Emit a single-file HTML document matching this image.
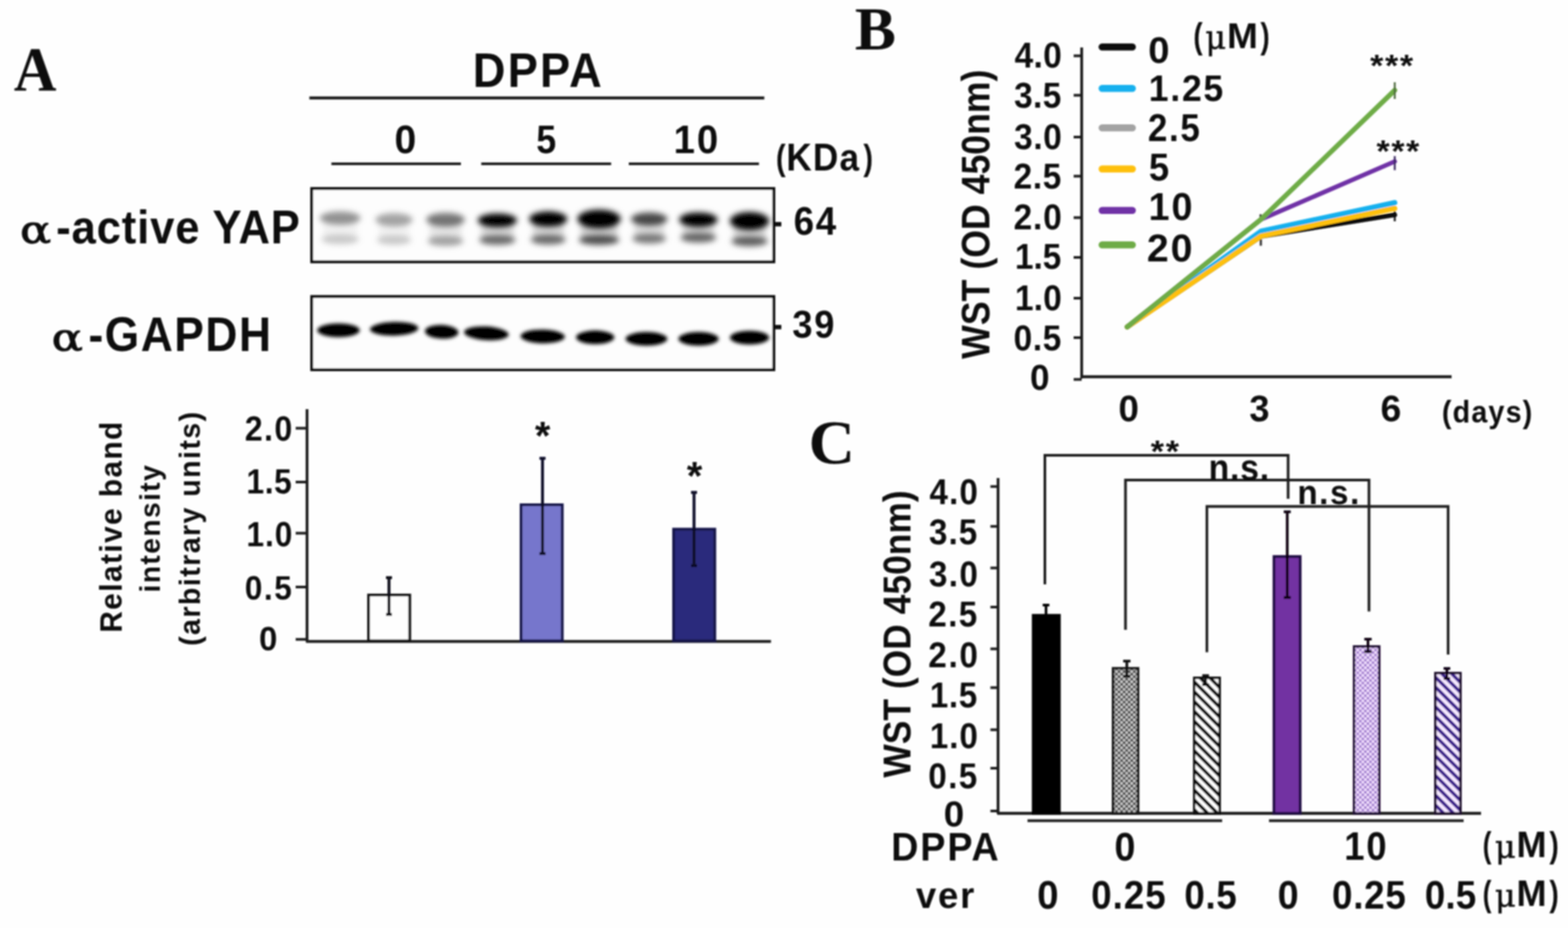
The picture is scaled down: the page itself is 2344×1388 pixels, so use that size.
<!DOCTYPE html>
<html lang="en"><head><meta charset="utf-8"><title>Figure</title>
<style>
html,body{margin:0;padding:0;background:#fefefe;}
body{width:2344px;height:1388px;overflow:hidden;}
svg{display:block;}
text{white-space:pre;}
</style></head><body>
<svg width="2344" height="1388" viewBox="0 0 2344 1388">
<defs>

<filter id="soft" x="0" y="0" width="100%" height="100%" filterUnits="userSpaceOnUse"><feGaussianBlur stdDeviation="0.8"/></filter>
<filter id="b3" x="-20%" y="-100%" width="140%" height="300%"><feGaussianBlur stdDeviation="4"/></filter>
<filter id="b2" x="-20%" y="-100%" width="140%" height="300%"><feGaussianBlur stdDeviation="2.6"/></filter>
<pattern id="hk" width="20" height="10.4" patternUnits="userSpaceOnUse" patternTransform="translate(1785 1016) rotate(45)">
  <rect width="20" height="10.4" fill="#fefefe"/>
  <rect y="0" width="20" height="4.9" fill="#0a0a0a"/>
</pattern>
<pattern id="hp" width="20" height="10.4" patternUnits="userSpaceOnUse" patternTransform="translate(2146 1009.5) rotate(45)">
  <rect width="20" height="10.4" fill="#f5e8ff"/>
  <rect y="0" width="20" height="4.9" fill="#3a1f8a"/>
</pattern>
<pattern id="dk" width="7.6" height="7.6" patternUnits="userSpaceOnUse" patternTransform="translate(1663.5 999)">
  <rect width="7.6" height="7.6" fill="#4c4c4c"/>
  <rect width="3.5" height="3.5" fill="#d6d6d6"/><rect x="3.8" y="3.8" width="3.5" height="3.5" fill="#d6d6d6"/>
</pattern>
<pattern id="dp" width="7.6" height="7.6" patternUnits="userSpaceOnUse" patternTransform="translate(2024 966.5)">
  <rect width="7.6" height="7.6" fill="#a27fcf"/>
  <rect width="3.8" height="3.8" fill="#f3e0ff"/><rect x="3.8" y="3.8" width="3.8" height="3.8" fill="#f3e0ff"/>
</pattern>

</defs>
<rect width="2344" height="1388" fill="#fefefe"/>
<g filter="url(#soft)">
<line x1="462.5" y1="146.5" x2="1142.5" y2="146.5" stroke="#1a1a1a" stroke-width="4.29" stroke-linecap="butt"/>
<line x1="495.5" y1="245" x2="689" y2="245" stroke="#1a1a1a" stroke-width="4.03" stroke-linecap="butt"/>
<line x1="719.5" y1="245" x2="913.5" y2="245" stroke="#1a1a1a" stroke-width="4.03" stroke-linecap="butt"/>
<line x1="940" y1="245" x2="1134.5" y2="245" stroke="#1a1a1a" stroke-width="4.03" stroke-linecap="butt"/>
<rect x="466" y="282" width="690.8" height="109.60000000000002" fill="#fdfdfd" stroke="#101010" stroke-width="4.29"/>
<rect x="466" y="443.5" width="690.8" height="109.5" fill="#fdfdfd" stroke="#101010" stroke-width="4.29"/>
<line x1="1157" y1="335.3" x2="1168" y2="335.3" stroke="#0a0a0a" stroke-width="6.5" stroke-linecap="butt"/>
<line x1="1157" y1="489.2" x2="1168" y2="489.2" stroke="#0a0a0a" stroke-width="6.5" stroke-linecap="butt"/>
<g filter="url(#b3)">
<rect x="483" y="322" width="51" height="42" rx="6" fill="#000" fill-opacity="0.048"/>
<ellipse cx="508.5" cy="326" rx="30.5" ry="10" fill="#000" fill-opacity="0.4"/>
<ellipse cx="508.5" cy="358" rx="28.5" ry="7.5" fill="#000" fill-opacity="0.16"/>
<rect x="566" y="324.5" width="46" height="40.5" rx="6" fill="#000" fill-opacity="0.048"/>
<ellipse cx="589.0" cy="328.5" rx="28.0" ry="10" fill="#000" fill-opacity="0.33"/>
<ellipse cx="589.0" cy="359" rx="26.0" ry="7.5" fill="#000" fill-opacity="0.16"/>
<rect x="642" y="324.5" width="48" height="42.0" rx="6" fill="#000" fill-opacity="0.09"/>
<ellipse cx="666.0" cy="328.5" rx="29.0" ry="10.5" fill="#000" fill-opacity="0.5"/>
<ellipse cx="666.0" cy="360.5" rx="27.0" ry="7.5" fill="#000" fill-opacity="0.3"/>
<rect x="719" y="325.5" width="49" height="39.5" rx="6" fill="#000" fill-opacity="0.15"/>
<ellipse cx="743.5" cy="329.5" rx="29.5" ry="10.5" fill="#000" fill-opacity="0.95"/>
<rect x="719" y="323.0" width="49" height="13.0" rx="6.5" fill="#000"/>
<ellipse cx="743.5" cy="359" rx="27.5" ry="7.5" fill="#000" fill-opacity="0.5"/>
<rect x="796" y="323.5" width="47" height="41.0" rx="6" fill="#000" fill-opacity="0.15"/>
<ellipse cx="819.5" cy="327.5" rx="28.5" ry="11.5" fill="#000" fill-opacity="1.0"/>
<rect x="796" y="320.0" width="47" height="15.0" rx="7.5" fill="#000"/>
<ellipse cx="819.5" cy="358.5" rx="26.5" ry="7.5" fill="#000" fill-opacity="0.5"/>
<rect x="868" y="323.5" width="55" height="41.5" rx="6" fill="#000" fill-opacity="0.186"/>
<ellipse cx="895.5" cy="327.5" rx="32.5" ry="14" fill="#000" fill-opacity="1.0"/>
<rect x="868" y="317.5" width="55" height="20" rx="10" fill="#000"/>
<ellipse cx="895.5" cy="359" rx="30.5" ry="7.5" fill="#000" fill-opacity="0.62"/>
<rect x="948" y="323.5" width="45" height="39.5" rx="6" fill="#000" fill-opacity="0.135"/>
<ellipse cx="970.5" cy="327.5" rx="27.5" ry="10" fill="#000" fill-opacity="0.68"/>
<ellipse cx="970.5" cy="357" rx="25.5" ry="7.5" fill="#000" fill-opacity="0.45"/>
<rect x="1020" y="324.5" width="48" height="37.0" rx="6" fill="#000" fill-opacity="0.156"/>
<ellipse cx="1044.0" cy="328.5" rx="29.0" ry="11" fill="#000" fill-opacity="0.95"/>
<rect x="1020" y="321.5" width="48" height="14" rx="7" fill="#000"/>
<ellipse cx="1044.0" cy="355.5" rx="27.0" ry="7.5" fill="#000" fill-opacity="0.52"/>
<rect x="1096" y="326.5" width="49" height="40.5" rx="6" fill="#000" fill-opacity="0.165"/>
<ellipse cx="1120.5" cy="330.5" rx="29.5" ry="13.5" fill="#000" fill-opacity="1.0"/>
<rect x="1096" y="321.0" width="49" height="19.0" rx="9.5" fill="#000"/>
<ellipse cx="1120.5" cy="361" rx="27.5" ry="7.5" fill="#000" fill-opacity="0.55"/>
</g>
<g filter="url(#b2)">
<ellipse cx="506.0" cy="494" rx="32.0" ry="10.5" fill="#000" transform="rotate(0 506.0 494)"/>
<rect x="480" y="486.5" width="52" height="15" rx="7.5" fill="#000" transform="rotate(0 506.0 494)"/>
<ellipse cx="589.25" cy="491.7" rx="36.25" ry="10.5" fill="#000" transform="rotate(-1.5 589.25 491.7)"/>
<rect x="559" y="484.2" width="60.5" height="15" rx="7.5" fill="#000" transform="rotate(-1.5 589.25 491.7)"/>
<ellipse cx="660.25" cy="496.3" rx="25.25" ry="10.5" fill="#000" transform="rotate(2.5 660.25 496.3)"/>
<rect x="641" y="488.8" width="38.5" height="15" rx="7.5" fill="#000" transform="rotate(2.5 660.25 496.3)"/>
<ellipse cx="727.0" cy="498.6" rx="33.5" ry="10.5" fill="#000" transform="rotate(3.5 727.0 498.6)"/>
<rect x="699.5" y="491.1" width="55.0" height="15" rx="7.5" fill="#000" transform="rotate(3.5 727.0 498.6)"/>
<ellipse cx="811.25" cy="503.2" rx="33.25" ry="10.5" fill="#000" transform="rotate(1 811.25 503.2)"/>
<rect x="784" y="495.7" width="54.5" height="15" rx="7.5" fill="#000" transform="rotate(1 811.25 503.2)"/>
<ellipse cx="889.75" cy="504.6" rx="28.75" ry="10.5" fill="#000" transform="rotate(0 889.75 504.6)"/>
<rect x="867" y="497.1" width="45.5" height="15" rx="7.5" fill="#000" transform="rotate(0 889.75 504.6)"/>
<ellipse cx="966.35" cy="506.8" rx="31.350000000000023" ry="10.5" fill="#000" transform="rotate(0 966.35 506.8)"/>
<rect x="941" y="499.3" width="50.700000000000045" height="15" rx="7.5" fill="#000" transform="rotate(0 966.35 506.8)"/>
<ellipse cx="1044.25" cy="506.8" rx="30.25" ry="10.5" fill="#000" transform="rotate(0 1044.25 506.8)"/>
<rect x="1020" y="499.3" width="48.5" height="15" rx="7.5" fill="#000" transform="rotate(0 1044.25 506.8)"/>
<ellipse cx="1120.5" cy="505" rx="29.5" ry="10.5" fill="#000" transform="rotate(0 1120.5 505)"/>
<rect x="1097" y="497.5" width="47" height="15" rx="7.5" fill="#000" transform="rotate(0 1120.5 505)"/>
</g>
<line x1="459" y1="612" x2="459" y2="960" stroke="#1a1a1a" stroke-width="4.16" stroke-linecap="butt"/>
<line x1="457.5" y1="959.4" x2="1152.5" y2="959.4" stroke="#1a1a1a" stroke-width="4.42" stroke-linecap="butt"/>
<line x1="442" y1="640.5" x2="459" y2="640.5" stroke="#1a1a1a" stroke-width="3.9" stroke-linecap="butt"/>
<line x1="442" y1="721" x2="459" y2="721" stroke="#1a1a1a" stroke-width="3.9" stroke-linecap="butt"/>
<line x1="442" y1="797.5" x2="459" y2="797.5" stroke="#1a1a1a" stroke-width="3.9" stroke-linecap="butt"/>
<line x1="442" y1="878" x2="459" y2="878" stroke="#1a1a1a" stroke-width="3.9" stroke-linecap="butt"/>
<line x1="442" y1="956.3" x2="459" y2="956.3" stroke="#1a1a1a" stroke-width="3.9" stroke-linecap="butt"/>
<rect x="551" y="890" width="61.5" height="68.5" fill="#fefefe" stroke="#151515" stroke-width="4.16"/>
<rect x="779" y="755" width="61.5" height="203.5" fill="#7676cc" stroke="#14144a" stroke-width="4.16"/>
<rect x="1007" y="791.5" width="61.5" height="167.0" fill="#2b2b7b" stroke="#14144a" stroke-width="4.16"/>
<line x1="581.5" y1="865" x2="581.5" y2="918" stroke="#0a0a12" stroke-width="4.29" stroke-linecap="butt"/>
<line x1="577.0" y1="864" x2="586.0" y2="864" stroke="#0a0a12" stroke-width="4.29" stroke-linecap="butt"/>
<line x1="577.0" y1="919" x2="586.0" y2="919" stroke="#0a0a12" stroke-width="4.29" stroke-linecap="butt"/>
<line x1="811" y1="686.5" x2="811" y2="827" stroke="#0a0a28" stroke-width="4.29" stroke-linecap="butt"/>
<line x1="806.5" y1="685.5" x2="815.5" y2="685.5" stroke="#0a0a28" stroke-width="4.29" stroke-linecap="butt"/>
<line x1="806.5" y1="828" x2="815.5" y2="828" stroke="#0a0a28" stroke-width="4.29" stroke-linecap="butt"/>
<line x1="1037.5" y1="737.5" x2="1037.5" y2="845" stroke="#0a0a28" stroke-width="4.29" stroke-linecap="butt"/>
<line x1="1033.0" y1="736.5" x2="1042.0" y2="736.5" stroke="#0a0a28" stroke-width="4.29" stroke-linecap="butt"/>
<line x1="1033.0" y1="846" x2="1042.0" y2="846" stroke="#0a0a28" stroke-width="4.29" stroke-linecap="butt"/>
<line x1="1617" y1="71" x2="1617" y2="566" stroke="#1a1a1a" stroke-width="4.16" stroke-linecap="butt"/>
<line x1="1616" y1="563.5" x2="2170" y2="563.5" stroke="#1a1a1a" stroke-width="4.42" stroke-linecap="butt"/>
<line x1="1605" y1="83.5" x2="1617" y2="83.5" stroke="#1a1a1a" stroke-width="3.9" stroke-linecap="butt"/>
<line x1="1605" y1="142.5" x2="1617" y2="142.5" stroke="#1a1a1a" stroke-width="3.9" stroke-linecap="butt"/>
<line x1="1605" y1="205" x2="1617" y2="205" stroke="#1a1a1a" stroke-width="3.9" stroke-linecap="butt"/>
<line x1="1605" y1="263.5" x2="1617" y2="263.5" stroke="#1a1a1a" stroke-width="3.9" stroke-linecap="butt"/>
<line x1="1605" y1="325.5" x2="1617" y2="325.5" stroke="#1a1a1a" stroke-width="3.9" stroke-linecap="butt"/>
<line x1="1605" y1="385" x2="1617" y2="385" stroke="#1a1a1a" stroke-width="3.9" stroke-linecap="butt"/>
<line x1="1605" y1="446" x2="1617" y2="446" stroke="#1a1a1a" stroke-width="3.9" stroke-linecap="butt"/>
<line x1="1605" y1="505" x2="1617" y2="505" stroke="#1a1a1a" stroke-width="3.9" stroke-linecap="butt"/>
<line x1="1605" y1="567.5" x2="1617" y2="567.5" stroke="#1a1a1a" stroke-width="3.9" stroke-linecap="butt"/>
<line x1="1884.5" y1="320.5" x2="1884.5" y2="327" stroke="#3a3a3a" stroke-width="3.38" stroke-linecap="butt"/>
<line x1="1884.8" y1="358" x2="1884.8" y2="367.5" stroke="#3a3a3a" stroke-width="3.38" stroke-linecap="butt"/>
<line x1="2085" y1="316" x2="2085" y2="331" stroke="#222" stroke-width="3.12" stroke-linecap="butt"/>
<polyline points="1685,489 1885,353.5 2085,321.3" fill="none" stroke="#0b0b0b" stroke-width="7" stroke-linejoin="round" stroke-linecap="round"/>
<polyline points="1685,489 1885,353 2085,310.5" fill="none" stroke="#a0a0a0" stroke-width="6" stroke-linejoin="round" stroke-linecap="round"/>
<polyline points="1685,489 1885,345.8 2085,303" fill="none" stroke="#12b0ee" stroke-width="7.6" stroke-linejoin="round" stroke-linecap="round"/>
<polyline points="1685,489 1885,353 2085,311.8" fill="none" stroke="#fec008" stroke-width="7.6" stroke-linejoin="round" stroke-linecap="round"/>
<polyline points="1685,489 1885,328.2 2085,241.5" fill="none" stroke="#7030a6" stroke-width="6.8" stroke-linejoin="round" stroke-linecap="round"/>
<polyline points="1685,489 1885,328.2 2085,135" fill="none" stroke="#6eac47" stroke-width="7.4" stroke-linejoin="round" stroke-linecap="round"/>
<line x1="2085" y1="123" x2="2085" y2="148" stroke="#4d6a3c" stroke-width="2.86" stroke-linecap="butt"/>
<line x1="2085" y1="233.5" x2="2085" y2="254.5" stroke="#3a2a60" stroke-width="2.86" stroke-linecap="butt"/>
<line x1="1647.5" y1="70.2" x2="1692.8" y2="70.2" stroke="#0b0b0b" stroke-width="10.4" stroke-linecap="round"/>
<line x1="1647.5" y1="132.3" x2="1692.8" y2="132.3" stroke="#12b0ee" stroke-width="10.4" stroke-linecap="round"/>
<line x1="1647.5" y1="191.3" x2="1692.8" y2="191.3" stroke="#a3a3a3" stroke-width="10.4" stroke-linecap="round"/>
<line x1="1647.5" y1="252.7" x2="1692.8" y2="252.7" stroke="#fec008" stroke-width="10.4" stroke-linecap="round"/>
<line x1="1647.5" y1="314.8" x2="1692.8" y2="314.8" stroke="#7030a6" stroke-width="10.4" stroke-linecap="round"/>
<line x1="1647.5" y1="366.2" x2="1692.8" y2="366.2" stroke="#6eac47" stroke-width="10.4" stroke-linecap="round"/>
<line x1="1492" y1="715" x2="1492" y2="1217.5" stroke="#1a1a1a" stroke-width="4.16" stroke-linecap="butt"/>
<line x1="1491" y1="1216.5" x2="2214" y2="1216.5" stroke="#1a1a1a" stroke-width="4.42" stroke-linecap="butt"/>
<line x1="1480.6" y1="727.7" x2="1492" y2="727.7" stroke="#1a1a1a" stroke-width="3.9" stroke-linecap="butt"/>
<line x1="1480.6" y1="787.3" x2="1492" y2="787.3" stroke="#1a1a1a" stroke-width="3.9" stroke-linecap="butt"/>
<line x1="1480.6" y1="849.5" x2="1492" y2="849.5" stroke="#1a1a1a" stroke-width="3.9" stroke-linecap="butt"/>
<line x1="1480.6" y1="908" x2="1492" y2="908" stroke="#1a1a1a" stroke-width="3.9" stroke-linecap="butt"/>
<line x1="1480.6" y1="970.5" x2="1492" y2="970.5" stroke="#1a1a1a" stroke-width="3.9" stroke-linecap="butt"/>
<line x1="1480.6" y1="1028.5" x2="1492" y2="1028.5" stroke="#1a1a1a" stroke-width="3.9" stroke-linecap="butt"/>
<line x1="1480.6" y1="1091.5" x2="1492" y2="1091.5" stroke="#1a1a1a" stroke-width="3.9" stroke-linecap="butt"/>
<line x1="1480.6" y1="1149" x2="1492" y2="1149" stroke="#1a1a1a" stroke-width="3.9" stroke-linecap="butt"/>
<line x1="1480.6" y1="1213" x2="1492" y2="1213" stroke="#1a1a1a" stroke-width="3.9" stroke-linecap="butt"/>
<rect x="1544.2" y="920" width="39.799999999999955" height="296.5" fill="#000" stroke="#000" stroke-width="3.38"/>
<rect x="1663.8" y="999.5" width="37.600000000000136" height="217.0" fill="url(#dk)" stroke="#141414" stroke-width="3.58"/>
<rect x="1785.3" y="1013.8" width="38.0" height="202.70000000000005" fill="url(#hk)" stroke="#0c0c0c" stroke-width="3.58"/>
<rect x="1904.5" y="832.4" width="39.09999999999991" height="384.1" fill="#7230a2" stroke="#1e0840" stroke-width="4.03"/>
<rect x="2024.2" y="966.9" width="37.600000000000136" height="249.60000000000002" fill="url(#dp)" stroke="#1c0a30" stroke-width="3.58"/>
<rect x="2145.7" y="1006.7" width="37.600000000000364" height="209.79999999999995" fill="url(#hp)" stroke="#1a0a2c" stroke-width="3.58"/>
<line x1="1563.7" y1="906" x2="1563.7" y2="931" stroke="#000" stroke-width="3.9" stroke-linecap="butt"/>
<line x1="1558.7" y1="905" x2="1568.7" y2="905" stroke="#000" stroke-width="3.9" stroke-linecap="butt"/>
<line x1="1558.7" y1="932" x2="1568.7" y2="932" stroke="#000" stroke-width="3.9" stroke-linecap="butt"/>
<line x1="1684.5" y1="989.8" x2="1684.5" y2="1010.5" stroke="#0c0c0c" stroke-width="3.9" stroke-linecap="butt"/>
<line x1="1679.0" y1="988.8" x2="1690.0" y2="988.8" stroke="#0c0c0c" stroke-width="3.9" stroke-linecap="butt"/>
<line x1="1679.0" y1="1011.5" x2="1690.0" y2="1011.5" stroke="#0c0c0c" stroke-width="3.9" stroke-linecap="butt"/>
<line x1="1802.3" y1="1011.5" x2="1802.3" y2="1023" stroke="#0c0c0c" stroke-width="3.9" stroke-linecap="butt"/>
<line x1="1797.3" y1="1010.5" x2="1807.3" y2="1010.5" stroke="#0c0c0c" stroke-width="3.9" stroke-linecap="butt"/>
<line x1="1797.3" y1="1024" x2="1807.3" y2="1024" stroke="#0c0c0c" stroke-width="3.9" stroke-linecap="butt"/>
<line x1="1924.3" y1="766.5" x2="1924.3" y2="892.7" stroke="#0c0410" stroke-width="4.03" stroke-linecap="butt"/>
<line x1="1919.05" y1="765.5" x2="1929.55" y2="765.5" stroke="#0c0410" stroke-width="4.03" stroke-linecap="butt"/>
<line x1="1919.05" y1="893.7" x2="1929.55" y2="893.7" stroke="#0c0410" stroke-width="4.03" stroke-linecap="butt"/>
<line x1="2045" y1="957" x2="2045" y2="973.6" stroke="#0c0612" stroke-width="3.9" stroke-linecap="butt"/>
<line x1="2039.5" y1="956" x2="2050.5" y2="956" stroke="#0c0612" stroke-width="3.9" stroke-linecap="butt"/>
<line x1="2039.5" y1="974.6" x2="2050.5" y2="974.6" stroke="#0c0612" stroke-width="3.9" stroke-linecap="butt"/>
<line x1="2163" y1="1000.8" x2="2163" y2="1013.8" stroke="#0c0612" stroke-width="3.9" stroke-linecap="butt"/>
<line x1="2158.0" y1="999.8" x2="2168.0" y2="999.8" stroke="#0c0612" stroke-width="3.9" stroke-linecap="butt"/>
<line x1="2158.0" y1="1014.8" x2="2168.0" y2="1014.8" stroke="#0c0612" stroke-width="3.9" stroke-linecap="butt"/>
<polyline points="1562,874 1562,681 1925.6,681 1925.6,746" fill="none" stroke="#1a1a1a" stroke-width="3.9"/>
<polyline points="1682.5,942 1682.5,718 2046.5,718 2046.5,914.5" fill="none" stroke="#1a1a1a" stroke-width="3.9"/>
<polyline points="1804.2,975.5 1804.2,757.5 2164.8,757.5 2164.8,979" fill="none" stroke="#1a1a1a" stroke-width="3.9"/>
<line x1="1536" y1="1227.5" x2="1827" y2="1227.5" stroke="#1a1a1a" stroke-width="4.16" stroke-linecap="butt"/>
<line x1="1897" y1="1227.5" x2="2188" y2="1227.5" stroke="#1a1a1a" stroke-width="4.16" stroke-linecap="butt"/>
<text transform="translate(20.80 135.20) scale(1.7642 1.8575)" font-family='"Liberation Serif", serif' font-weight="bold" font-size="50" fill="#0a0a0a">A</text>
<text transform="translate(706.78 130.00) scale(1.3511 1.4564)" font-family='"Liberation Sans", sans-serif' font-weight="bold" font-size="50" fill="#0a0a0a" letter-spacing="2.500">DPPA</text>
<text transform="translate(589.67 228.59) scale(1.1685 1.1687)" font-family='"Liberation Sans", sans-serif' font-weight="bold" font-size="50" fill="#0a0a0a">0</text>
<text transform="translate(801.67 228.59) scale(1.0667 1.1687)" font-family='"Liberation Sans", sans-serif' font-weight="bold" font-size="50" fill="#0a0a0a">5</text>
<text transform="translate(1007.12 228.59) scale(1.1461 1.1687)" font-family='"Liberation Sans", sans-serif' font-weight="bold" font-size="50" fill="#0a0a0a" letter-spacing="2.500">10</text>
<text transform="translate(1159.98 254.29) scale(0.8623 1.0618)" font-family='"Liberation Sans", sans-serif' font-weight="bold" font-size="50" fill="#0a0a0a">(</text>
<text transform="translate(1175.62 254.71) scale(1.0496 1.1409)" font-family='"Liberation Sans", sans-serif' font-weight="bold" font-size="50" fill="#0a0a0a" letter-spacing="1.744">KDa</text>
<text transform="translate(1290.70 254.29) scale(0.8556 1.0618)" font-family='"Liberation Sans", sans-serif' font-weight="bold" font-size="50" fill="#0a0a0a">)</text>
<text transform="translate(1186.59 351.07) scale(1.0957 1.1910)" font-family='"Liberation Sans", sans-serif' font-weight="bold" font-size="50" fill="#0a0a0a" letter-spacing="2.216">64</text>
<text transform="translate(1184.45 504.80) scale(1.0822 1.1548)" font-family='"Liberation Sans", sans-serif' font-weight="bold" font-size="50" fill="#0a0a0a" letter-spacing="2.500">39</text>
<text transform="translate(30.08 362.63) scale(1.3752 1.1385)" font-family='"DejaVu Serif", "Liberation Serif", serif' font-weight="normal" font-size="50" fill="#0a0a0a" stroke="#0a0a0a" stroke-width="1.1">α</text>
<text transform="translate(83.96 364.19) scale(1.3027 1.4160)" font-family='"Liberation Sans", sans-serif' font-weight="bold" font-size="50" fill="#0a0a0a" letter-spacing="1.008">-active YAP</text>
<text transform="translate(77.36 523.89) scale(1.3817 1.1149)" font-family='"DejaVu Serif", "Liberation Serif", serif' font-weight="normal" font-size="50" fill="#0a0a0a" stroke="#0a0a0a" stroke-width="1.1">α</text>
<text transform="translate(132.23 525.47) scale(1.3261 1.4414)" font-family='"Liberation Sans", sans-serif' font-weight="bold" font-size="50" fill="#0a0a0a" letter-spacing="1.722">-GAPDH</text>
<text transform="translate(366.00 659.19) scale(0.9574 1.0407)" font-family='"Liberation Sans", sans-serif' font-weight="bold" font-size="50" fill="#0a0a0a" letter-spacing="2.291">2.0</text>
<text transform="translate(368.54 737.50) scale(0.9472 1.0296)" font-family='"Liberation Sans", sans-serif' font-weight="bold" font-size="50" fill="#0a0a0a" letter-spacing="0.951">1.5</text>
<text transform="translate(368.55 817.40) scale(0.9446 1.0268)" font-family='"Liberation Sans", sans-serif' font-weight="bold" font-size="50" fill="#0a0a0a" letter-spacing="1.433">1.0</text>
<text transform="translate(366.03 897.42) scale(0.9414 1.0017)" font-family='"Liberation Sans", sans-serif' font-weight="bold" font-size="50" fill="#0a0a0a" letter-spacing="2.500">0.5</text>
<text transform="translate(387.16 972.71) scale(0.9827 1.0157)" font-family='"Liberation Sans", sans-serif' font-weight="bold" font-size="50" fill="#0a0a0a">0</text>
<text transform="translate(799.80 672.20) scale(1.1776 1.1776)" font-family='"Liberation Sans", sans-serif' font-weight="bold" font-size="50" fill="#0a0a0a">*</text>
<text transform="translate(1026.80 731.90) scale(1.1878 1.1776)" font-family='"Liberation Sans", sans-serif' font-weight="bold" font-size="50" fill="#0a0a0a">*</text>
<text transform="translate(182.47 946.28) rotate(-90) scale(0.8888 0.9387)" font-family='"Liberation Sans", sans-serif' font-weight="bold" font-size="50" fill="#0a0a0a" letter-spacing="2.500">Relative band</text>
<text transform="translate(238.59 886.14) rotate(-90) scale(0.8439 0.8603)" font-family='"Liberation Sans", sans-serif' font-weight="bold" font-size="50" fill="#0a0a0a" letter-spacing="2.500">intensity</text>
<text transform="translate(298.75 966.00) rotate(-90) scale(0.8548 0.8918)" font-family='"Liberation Sans", sans-serif' font-weight="bold" font-size="50" fill="#0a0a0a" letter-spacing="2.500">(arbitrary units)</text>
<text transform="translate(1278.06 74.17) scale(1.8400 1.8277)" font-family='"Liberation Serif", serif' font-weight="bold" font-size="50" fill="#0a0a0a">B</text>
<text transform="translate(1516.80 101.45) scale(0.9984 1.0852)" font-family='"Liberation Sans", sans-serif' font-weight="bold" font-size="50" fill="#0a0a0a" letter-spacing="0.515">4.0</text>
<text transform="translate(1516.02 160.55) scale(0.9984 1.0852)" font-family='"Liberation Sans", sans-serif' font-weight="bold" font-size="50" fill="#0a0a0a" letter-spacing="0.515">3.5</text>
<text transform="translate(1516.02 223.45) scale(0.9984 1.0852)" font-family='"Liberation Sans", sans-serif' font-weight="bold" font-size="50" fill="#0a0a0a" letter-spacing="0.905">3.0</text>
<text transform="translate(1515.24 281.55) scale(0.9984 1.0852)" font-family='"Liberation Sans", sans-serif' font-weight="bold" font-size="50" fill="#0a0a0a" letter-spacing="0.905">2.5</text>
<text transform="translate(1515.24 342.55) scale(0.9984 1.0852)" font-family='"Liberation Sans", sans-serif' font-weight="bold" font-size="50" fill="#0a0a0a" letter-spacing="1.296">2.0</text>
<text transform="translate(1517.19 402.45) scale(0.9964 1.0852)" font-family='"Liberation Sans", sans-serif' font-weight="bold" font-size="50" fill="#0a0a0a">1.5</text>
<text transform="translate(1517.18 463.65) scale(0.9984 1.0852)" font-family='"Liberation Sans", sans-serif' font-weight="bold" font-size="50" fill="#0a0a0a" letter-spacing="0.324">1.0</text>
<text transform="translate(1515.24 524.15) scale(0.9984 1.0852)" font-family='"Liberation Sans", sans-serif' font-weight="bold" font-size="50" fill="#0a0a0a" letter-spacing="0.905">0.5</text>
<text transform="translate(1539.66 582.66) scale(1.0488 1.0713)" font-family='"Liberation Sans", sans-serif' font-weight="bold" font-size="50" fill="#0a0a0a">0</text>
<text transform="translate(1716.51 93.72) scale(1.1437 1.1214)" font-family='"Liberation Sans", sans-serif' font-weight="bold" font-size="50" fill="#0a0a0a">0</text>
<text transform="translate(1717.28 150.83) scale(1.0623 1.1103)" font-family='"Liberation Sans", sans-serif' font-weight="bold" font-size="50" fill="#0a0a0a" letter-spacing="2.500">1.25</text>
<text transform="translate(1715.96 211.11) scale(1.0470 1.1381)" font-family='"Liberation Sans", sans-serif' font-weight="bold" font-size="50" fill="#0a0a0a" letter-spacing="2.370">2.5</text>
<text transform="translate(1717.45 269.61) scale(1.0861 1.1409)" font-family='"Liberation Sans", sans-serif' font-weight="bold" font-size="50" fill="#0a0a0a">5</text>
<text transform="translate(1717.08 329.12) scale(1.1272 1.1325)" font-family='"Liberation Sans", sans-serif' font-weight="bold" font-size="50" fill="#0a0a0a" letter-spacing="2.500">10</text>
<text transform="translate(1714.47 391.12) scale(1.1737 1.1325)" font-family='"Liberation Sans", sans-serif' font-weight="bold" font-size="50" fill="#0a0a0a" letter-spacing="2.500">20</text>
<text transform="translate(1784.06 72.45) scale(0.8286 1.0744)" font-family='"Liberation Sans", sans-serif' font-weight="bold" font-size="50" fill="#0a0a0a">(</text>
<text transform="translate(1801.92 72.79) scale(0.9465 0.9973)" font-family='"DejaVu Serif", "Liberation Serif", serif' font-weight="normal" font-size="50" fill="#0a0a0a" stroke="#0a0a0a" stroke-width="0.7">μ</text>
<text transform="translate(1834.23 72.40) scale(1.1103 1.0752)" font-family='"Liberation Sans", sans-serif' font-weight="bold" font-size="50" fill="#0a0a0a">M</text>
<text transform="translate(1884.20 72.45) scale(0.8286 1.0744)" font-family='"Liberation Sans", sans-serif' font-weight="bold" font-size="50" fill="#0a0a0a">)</text>
<text transform="translate(1671.88 629.63) scale(1.0983 1.1130)" font-family='"Liberation Sans", sans-serif' font-weight="bold" font-size="50" fill="#0a0a0a">0</text>
<text transform="translate(1867.86 629.63) scale(1.0783 1.1130)" font-family='"Liberation Sans", sans-serif' font-weight="bold" font-size="50" fill="#0a0a0a">3</text>
<text transform="translate(2063.86 629.63) scale(1.1160 1.1130)" font-family='"Liberation Sans", sans-serif' font-weight="bold" font-size="50" fill="#0a0a0a">6</text>
<text transform="translate(2155.49 632.29) scale(0.8591 0.9338)" font-family='"Liberation Sans", sans-serif' font-weight="bold" font-size="50" fill="#0a0a0a" letter-spacing="1.991">(days)</text>
<text transform="translate(2048.30 114.06) scale(1.0119 0.9318)" font-family='"Liberation Sans", sans-serif' font-weight="bold" font-size="50" fill="#0a0a0a" letter-spacing="2.500">***</text>
<text transform="translate(2057.80 241.56) scale(1.0087 0.9318)" font-family='"Liberation Sans", sans-serif' font-weight="bold" font-size="50" fill="#0a0a0a" letter-spacing="2.500">***</text>
<text transform="translate(1479.10 536.70) rotate(-90) scale(1.0672 1.1691)" font-family='"Liberation Sans", sans-serif' font-weight="bold" font-size="50" fill="#0a0a0a">WST (OD 450nm)</text>
<text transform="translate(1208.80 693.23) scale(1.9200 1.8764)" font-family='"Liberation Serif", serif' font-weight="bold" font-size="50" fill="#0a0a0a">C</text>
<text transform="translate(1389.40 754.36) scale(0.9907 1.0769)" font-family='"Liberation Sans", sans-serif' font-weight="bold" font-size="50" fill="#0a0a0a" letter-spacing="1.739">4.0</text>
<text transform="translate(1388.63 813.86) scale(0.9907 1.0769)" font-family='"Liberation Sans", sans-serif' font-weight="bold" font-size="50" fill="#0a0a0a" letter-spacing="1.739">3.5</text>
<text transform="translate(1388.63 876.96) scale(0.9907 1.0769)" font-family='"Liberation Sans", sans-serif' font-weight="bold" font-size="50" fill="#0a0a0a" letter-spacing="2.130">3.0</text>
<text transform="translate(1387.85 936.66) scale(0.9907 1.0769)" font-family='"Liberation Sans", sans-serif' font-weight="bold" font-size="50" fill="#0a0a0a" letter-spacing="2.130">2.5</text>
<text transform="translate(1387.85 997.66) scale(0.9913 1.0769)" font-family='"Liberation Sans", sans-serif' font-weight="bold" font-size="50" fill="#0a0a0a" letter-spacing="2.500">2.0</text>
<text transform="translate(1390.10 1057.86) scale(0.9907 1.0769)" font-family='"Liberation Sans", sans-serif' font-weight="bold" font-size="50" fill="#0a0a0a" letter-spacing="0.993">1.5</text>
<text transform="translate(1390.10 1118.66) scale(0.9907 1.0769)" font-family='"Liberation Sans", sans-serif' font-weight="bold" font-size="50" fill="#0a0a0a" letter-spacing="1.384">1.0</text>
<text transform="translate(1387.85 1178.86) scale(0.9907 1.0769)" font-family='"Liberation Sans", sans-serif' font-weight="bold" font-size="50" fill="#0a0a0a" letter-spacing="2.130">0.5</text>
<text transform="translate(1410.78 1236.47) scale(1.1025 1.0657)" font-family='"Liberation Sans", sans-serif' font-weight="bold" font-size="50" fill="#0a0a0a">0</text>
<text transform="translate(1360.50 1163.00) rotate(-90) scale(1.0546 1.1463)" font-family='"Liberation Sans", sans-serif' font-weight="bold" font-size="50" fill="#0a0a0a" letter-spacing="0.136">WST (OD 450nm)</text>
<text transform="translate(1720.30 691.26) scale(1.0171 0.9318)" font-family='"Liberation Sans", sans-serif' font-weight="bold" font-size="50" fill="#0a0a0a" letter-spacing="2.500">**</text>
<text transform="translate(1806.65 717.94) scale(1.0075 1.0951)" font-family='"Liberation Sans", sans-serif' font-weight="bold" font-size="50" fill="#0a0a0a" letter-spacing="1.272">n.s.</text>
<text transform="translate(1939.41 753.99) scale(0.9880 1.0418)" font-family='"Liberation Sans", sans-serif' font-weight="bold" font-size="50" fill="#0a0a0a" letter-spacing="2.500">n.s.</text>
<text transform="translate(1332.28 1286.60) scale(1.1268 1.1975)" font-family='"Liberation Sans", sans-serif' font-weight="bold" font-size="50" fill="#0a0a0a" letter-spacing="2.500">DPPA</text>
<text transform="translate(1666.04 1286.67) scale(1.1272 1.1965)" font-family='"Liberation Sans", sans-serif' font-weight="bold" font-size="50" fill="#0a0a0a">0</text>
<text transform="translate(2009.40 1286.18) scale(1.0894 1.1826)" font-family='"Liberation Sans", sans-serif' font-weight="bold" font-size="50" fill="#0a0a0a" letter-spacing="2.500">10</text>
<text transform="translate(2216.57 1281.64) scale(0.7815 1.0660)" font-family='"Liberation Sans", sans-serif' font-weight="bold" font-size="50" fill="#0a0a0a">(</text>
<text transform="translate(2234.71 1282.80) scale(0.9566 0.9600)" font-family='"DejaVu Serif", "Liberation Serif", serif' font-weight="normal" font-size="50" fill="#0a0a0a" stroke="#0a0a0a" stroke-width="0.7">μ</text>
<text transform="translate(2267.03 1282.10) scale(1.0797 1.0980)" font-family='"Liberation Sans", sans-serif' font-weight="bold" font-size="50" fill="#0a0a0a">M</text>
<text transform="translate(2316.20 1281.64) scale(0.8354 1.0660)" font-family='"Liberation Sans", sans-serif' font-weight="bold" font-size="50" fill="#0a0a0a">)</text>
<text transform="translate(2216.57 1354.64) scale(0.7815 1.0660)" font-family='"Liberation Sans", sans-serif' font-weight="bold" font-size="50" fill="#0a0a0a">(</text>
<text transform="translate(2234.71 1355.80) scale(0.9566 0.9600)" font-family='"DejaVu Serif", "Liberation Serif", serif' font-weight="normal" font-size="50" fill="#0a0a0a" stroke="#0a0a0a" stroke-width="0.7">μ</text>
<text transform="translate(2267.03 1355.10) scale(1.0797 1.0980)" font-family='"Liberation Sans", sans-serif' font-weight="bold" font-size="50" fill="#0a0a0a">M</text>
<text transform="translate(2316.20 1354.64) scale(0.8354 1.0660)" font-family='"Liberation Sans", sans-serif' font-weight="bold" font-size="50" fill="#0a0a0a">)</text>
<text transform="translate(1369.30 1358.14) scale(1.0886 1.1022)" font-family='"Liberation Sans", sans-serif' font-weight="bold" font-size="50" fill="#0a0a0a" letter-spacing="2.500">ver</text>
<text transform="translate(1550.51 1359.17) scale(1.1479 1.1937)" font-family='"Liberation Sans", sans-serif' font-weight="bold" font-size="50" fill="#0a0a0a">0</text>
<text transform="translate(1631.28 1359.17) scale(1.0982 1.1937)" font-family='"Liberation Sans", sans-serif' font-weight="bold" font-size="50" fill="#0a0a0a" letter-spacing="1.368">0.25</text>
<text transform="translate(1770.58 1359.17) scale(1.0982 1.1937)" font-family='"Liberation Sans", sans-serif' font-weight="bold" font-size="50" fill="#0a0a0a" letter-spacing="0.887">0.5</text>
<text transform="translate(1910.04 1359.17) scale(1.1272 1.1937)" font-family='"Liberation Sans", sans-serif' font-weight="bold" font-size="50" fill="#0a0a0a">0</text>
<text transform="translate(1991.18 1359.17) scale(1.0982 1.1937)" font-family='"Liberation Sans", sans-serif' font-weight="bold" font-size="50" fill="#0a0a0a" letter-spacing="1.095">0.25</text>
<text transform="translate(2129.98 1359.17) scale(1.0982 1.1937)" font-family='"Liberation Sans", sans-serif' font-weight="bold" font-size="50" fill="#0a0a0a" letter-spacing="0.250">0.5</text>
</g>
</svg>
</body></html>
